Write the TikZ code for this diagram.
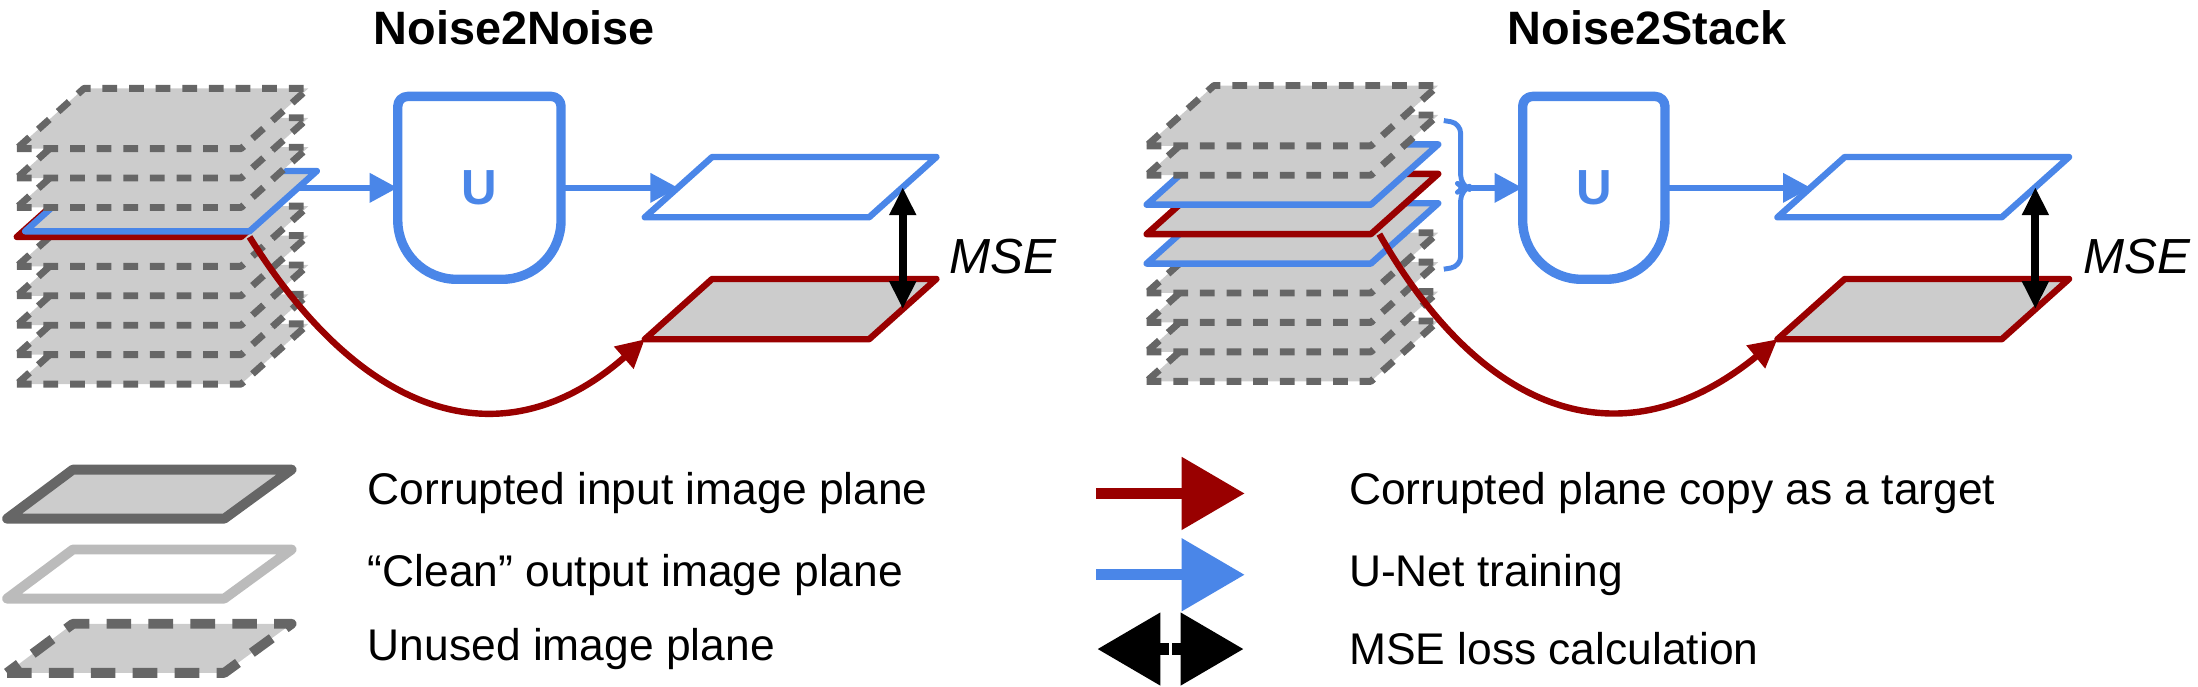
\documentclass[tikz,border=0pt]{standalone}
\usepackage{fontspec}
\setmainfont{Liberation Sans}
\usetikzlibrary{arrows.meta,calc}
\definecolor{netblue}{HTML}{4A86E8}
\definecolor{copyred}{HTML}{990000}
\definecolor{planefill}{HTML}{CCCCCC}
\definecolor{planeedge}{HTML}{666666}
\definecolor{cleanedge}{HTML}{BBBBBB}

% parallelogram plane: name, bottom-left x, bottom-left y, style
\newcommand{\imgplane}[4]{%
  \draw[#4] (#2,#3) -- ++(160,0) -- ++(48,-43) -- ++(-160,0) -- cycle;
  \coordinate (#1-w) at ($(#2,#3)+(24,-21)$);
  \coordinate (#1-e) at ($(#2,#3)+(184,-21)$);
  \coordinate (#1-br) at ($(#2,#3)+(160,0)$);
  \coordinate (#1-bl) at (#2,#3);
  \coordinate (#1-tr) at ($(#2,#3)+(208,-43)$);
}
% U-Net block around a node
\newcommand{\unetbox}[1]{%
  \draw[unet] (#1.north west) [rounded corners=0.42cm] -- (#1.south west) -- (#1.south east) [rounded corners=2pt] -- (#1.north east) -- cycle;
}

\begin{document}
\begin{tikzpicture}[
    x=0.01cm, y=-0.01cm,
    line join=round,
    font=\fontsize{9}{11}\selectfont
  ]

  \tikzstyle{unused} = [draw=planeedge, fill=planefill, line width=1.4pt, dash pattern=on 3pt off 2.4pt]
  \tikzstyle{input} = [draw=copyred, fill=planefill, line width=1.3pt]
  \tikzstyle{train} = [draw=netblue, fill=planefill, line width=1.3pt]
  \tikzstyle{output} = [draw=netblue, fill=white, line width=1.3pt]
  \tikzstyle{unet} = [draw=netblue, line width=1.9pt, rounded corners=2pt]
  \tikzstyle{utext} = [text=netblue, font=\fontsize{10}{12}\selectfont\bfseries, minimum width=1.15cm, minimum height=1.29cm]
  \tikzstyle{bluearrow} = [draw=netblue, line width=1.3pt, -{Triangle[length=0.2cm,width=0.2cm]}]
  \tikzstyle{redarrow} = [draw=copyred, line width=1.3pt, -{Triangle[length=0.2cm,width=0.2cm]}]
  \tikzstyle{mse} = [draw=black, line width=1.6pt, {Triangle[length=0.2cm,width=0.18cm]}-{Triangle[length=0.2cm,width=0.18cm]}]
  \tikzstyle{title} = [font=\fontsize{9.5}{11}\selectfont\bfseries]
  \tikzstyle{legend} = [anchor=west, font=\fontsize{9}{11}\selectfont]
  \tikzstyle{bigarrow} = [line width=2.3pt, -{Triangle[length=0.45cm,width=0.5cm]}]

  \useasboundingbox (0,0) rectangle (1568,490);

  % Noise2Noise
  \node[title] (n2n) at (367,20) {Noise2Noise};
  \foreach \i in {8,7,...,0} {
    \ifnum\i=3
      \imgplane{ls3}{12}{169}{input}
      \imgplane{lsel}{18}{165}{train}
    \else
      \imgplane{ls\i}{12}{106+21*\i}{unused}
    \fi
  }
  \coordinate (lstart) at (178,169);
  \node[utext] (u1) at (342,134) {U};
  \unetbox{u1}
  \imgplane{lout}{460}{155}{output}
  \imgplane{ltgt}{460}{242}{input}
  \coordinate (lin) at (212,134);
  \draw[bluearrow] (lin) -- (u1.west);
  \draw[bluearrow] (u1.east) -- (lout-w);
  \draw[redarrow] (lstart) .. controls (260,300) and (360,330) .. (ltgt-bl);
  \coordinate (lm1) at ($(lout-br)!0.5!(lout-tr)$);
  \coordinate (lm2) at ($(ltgt-br)!0.5!(ltgt-tr)$);
  \draw[mse] (lm1) -- (lm2);
  \node[anchor=west, font=\fontsize{10}{12}\selectfont\itshape] (lmse) at (665,183) {MSE};

  % Noise2Stack
  \node[title] (n2s) at (1175,20) {Noise2Stack};
  \foreach \i in {8,7,...,0} {
    \ifnum\i=2 \imgplane{rs\i}{818}{104+21*\i}{train}
    \else\ifnum\i=3 \imgplane{rs\i}{818}{104+21*\i}{input}
    \else\ifnum\i=4 \imgplane{rs\i}{818}{104+21*\i}{train}
    \else \imgplane{rs\i}{818}{104+21*\i}{unused}
    \fi\fi\fi
  }
  \coordinate (rstart) at (984,167);
  \node[utext, minimum width=1.0cm] (u2) at (1137,134) {U};
  \unetbox{u2}
  \coordinate (brace) at (1046,134);
  \draw[draw=netblue, line width=1pt, rounded corners=2pt] (1030,86) -- (1042,88) -- (1042,132) -- (brace) -- (1042,136) -- (1042,190) -- (1030,192);
  \imgplane{rout}{1268}{155}{output}
  \imgplane{rtgt}{1268}{242}{input}
  \draw[bluearrow] (brace) -- (u2.west);
  \draw[bluearrow] (u2.east) -- (rout-w);
  \draw[redarrow] (rstart) .. controls (1060,300) and (1160,330) .. (rtgt-bl);
  \coordinate (rm1) at ($(rout-br)!0.5!(rout-tr)$);
  \coordinate (rm2) at ($(rtgt-br)!0.5!(rtgt-tr)$);
  \draw[mse] (rm1) -- (rm2);
  \node[anchor=west, font=\fontsize{10}{12}\selectfont\itshape] (rmse) at (1474,183) {MSE};

  % legend
  \draw[draw=planeedge, fill=planefill, line width=2pt] (5,370) -- (160,370) -- (208,335) -- (52,335) -- cycle;
  \draw[draw=cleanedge, fill=white, line width=2pt] (5,427) -- (160,427) -- (208,392) -- (52,392) -- cycle;
  \draw[unused, line width=2pt, dash pattern=on 5pt off 3.5pt] (5,480) -- (160,480) -- (208,445) -- (52,445) -- cycle;
  \node[legend] (lg1) at (250,352) {Corrupted input image plane};
  \node[legend] (lg2) at (250,410) {“Clean” output image plane};
  \node[legend] (lg3) at (250,463) {Unused image plane};

  \coordinate (a1) at (782,352);
  \coordinate (a2) at (782,410);
  \coordinate (a3) at (835,463);
  \draw[bigarrow, copyred] (a1) -- ++(106,0);
  \draw[bigarrow, netblue] (a2) -- ++(106,0);
  \draw[bigarrow, black] ([xshift=-0.012cm]a3) -- ++(-51,0);
  \draw[bigarrow, black] ([xshift=0.012cm]a3) -- ++(51,0);
  \node[legend] (lg4) at (950,352) {Corrupted plane copy as a target};
  \node[legend] (lg5) at (950,410) {U-Net training};
  \node[legend] (lg6) at (950,463) {MSE loss calculation};
\end{tikzpicture}
\end{document}
